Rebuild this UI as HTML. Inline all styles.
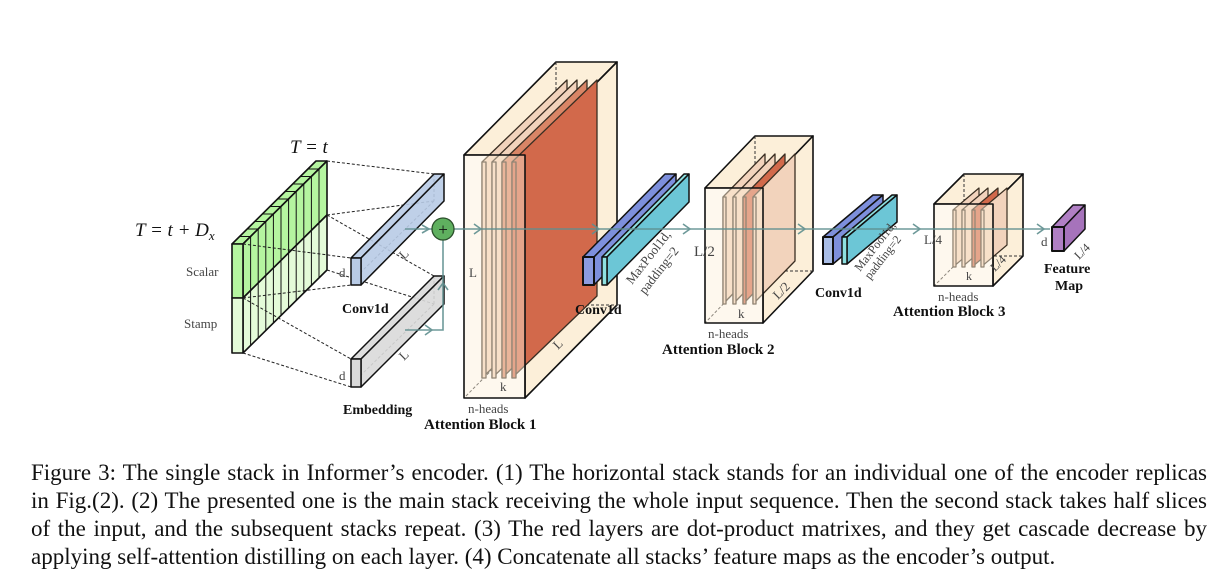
<!DOCTYPE html>
<html><head><meta charset="utf-8"><style>
body{margin:0;background:#fff;width:1230px;height:587px;overflow:hidden;position:relative;font-family:"Liberation Serif",serif}
svg{position:absolute;left:0;top:0}
.cap{position:absolute;left:31px;width:1176px;font-size:23px;line-height:28px;top:459px;color:#111}
.cap div{text-align:justify;text-align-last:justify;white-space:nowrap;height:28px}
.cap div.last{text-align-last:left}
</style></head><body>
<svg width="1230" height="587" viewBox="0 0 1230 587" font-family="Liberation Serif, serif">
<g stroke="#111" stroke-width="1.6" stroke-linejoin="round">
<polygon points="232,244 243,244 327,161 316,161" fill="#b5f5a0"/>
<polygon points="243,244 327,161 327,215 243,298" fill="#b5f5a0"/>
<polygon points="243,298 327,215 327,270 243,353" fill="#e4fbd9"/>
<rect x="232" y="244" width="11" height="54" fill="#b5f5a0"/>
<rect x="232" y="298" width="11" height="55" fill="#e4fbd9"/>
<g stroke-width="1">
<line x1="250.6" y1="236.5" x2="250.6" y2="345.5"/><line x1="258.2" y1="229" x2="258.2" y2="338"/>
<line x1="265.8" y1="221.5" x2="265.8" y2="330.5"/><line x1="273.4" y1="214" x2="273.4" y2="323"/>
<line x1="281" y1="206.5" x2="281" y2="315.5"/><line x1="288.6" y1="199" x2="288.6" y2="308"/>
<line x1="296.2" y1="191.5" x2="296.2" y2="300.5"/><line x1="303.8" y1="184" x2="303.8" y2="293"/>
<line x1="311.4" y1="176.5" x2="311.4" y2="285.5"/><line x1="319" y1="169" x2="319" y2="278"/>
<line x1="239.6" y1="236.5" x2="250.6" y2="236.5"/><line x1="247.2" y1="229" x2="258.2" y2="229"/>
<line x1="254.8" y1="221.5" x2="265.8" y2="221.5"/><line x1="262.4" y1="214" x2="273.4" y2="214"/>
<line x1="270" y1="206.5" x2="281" y2="206.5"/><line x1="277.6" y1="199" x2="288.6" y2="199"/>
<line x1="285.2" y1="191.5" x2="296.2" y2="191.5"/><line x1="292.8" y1="184" x2="303.8" y2="184"/>
<line x1="300.4" y1="176.5" x2="311.4" y2="176.5"/><line x1="308" y1="169" x2="319" y2="169"/>
</g>
</g>
<g stroke="#222" stroke-width="1" stroke-dasharray="3,2" fill="none">
<line x1="327" y1="161" x2="434" y2="174"/><line x1="327" y1="215" x2="434" y2="201"/>
<line x1="243" y1="244" x2="351" y2="258"/><line x1="243" y1="298" x2="351" y2="285"/>
<line x1="327" y1="215" x2="434" y2="276"/><line x1="327" y1="270" x2="434" y2="304"/>
<line x1="243" y1="298" x2="351" y2="359"/><line x1="243" y1="353" x2="351" y2="387"/>
<line x1="434" y1="174" x2="434" y2="201"/><line x1="434" y1="201" x2="361" y2="272"/>
<line x1="434" y1="276" x2="434" y2="304"/><line x1="434" y1="304" x2="361" y2="375"/>
</g>
<g stroke="#111" stroke-width="1.5" stroke-linejoin="round">
<polygon points="351,258 361,258 444,174 434,174" fill="#b8cbe6" fill-opacity=".9"/>
<polygon points="361,258 444,174 444,201 361,285" fill="#b8cbe6" fill-opacity=".9"/>
<rect x="351" y="258" width="10" height="27" fill="#b8cbe6"/>
<polygon points="351,359 361,359 444,276 434,276" fill="#d9d9d9" fill-opacity=".9"/>
<polygon points="361,359 444,276 444,304 361,387" fill="#d9d9d9" fill-opacity=".9"/>
<rect x="351" y="359" width="10" height="28" fill="#d9d9d9"/>
</g>
<g stroke="#111" stroke-width="1.6" stroke-linejoin="round">
<polygon points="464,155 525,155 617,62 556,62" fill="#fcefd9"/>
<polygon points="525,155 617,62 617,305 525,398" fill="#fcefd9"/>
<g stroke="#333" stroke-width="1" stroke-dasharray="3,2" fill="none">
<line x1="556" y1="62" x2="556" y2="305"/><line x1="556" y1="305" x2="617" y2="305"/><line x1="556" y1="305" x2="464" y2="398"/></g>
<g stroke="#3a2e22" stroke-width="1.3">
<polygon points="482,378 482,162 567,80 567,296" fill="#f2d3bc"/><rect x="482" y="162" width="4" height="216" fill="#f2d3bc"/>
<polygon points="492,378 492,162 577,80 577,296" fill="#f2d3bc"/><rect x="492" y="162" width="4" height="216" fill="#f2d3bc"/>
<polygon points="502,378 502,162 587,80 587,296" fill="#d98566"/><rect x="502" y="162" width="4" height="216" fill="#d98566"/>
<polygon points="512,378 512,162 597,80 597,296" fill="#d2694b"/><rect x="512" y="162" width="4" height="216" fill="#d2694b"/>
</g>
<rect x="464" y="155" width="61" height="243" fill="#fcefd9" fill-opacity=".45"/>
</g>
<g stroke="#111" stroke-width="1.5" stroke-linejoin="round">
<polygon points="583,257 594,257 676,174 665,174" fill="#7d8fdc"/>
<polygon points="594,257 676,174 676,202 594,285" fill="#7d8fdc"/>
<rect x="583" y="257" width="11" height="28" fill="#8c9be0" stroke-width="2"/>
<polygon points="602,257 607,257 689,174 684,174" fill="#8ee0e0"/>
<polygon points="607,257 689,174 689,202 607,285" fill="#6cc6d6"/>
<rect x="602" y="257" width="5" height="28" fill="#8ee0e0"/>
</g>
<g stroke="#111" stroke-width="1.6" stroke-linejoin="round">
<polygon points="705,188 763,188 813,136 755,136" fill="#fcefd9"/>
<polygon points="763,188 813,136 813,271 763,323" fill="#fcefd9"/>
<g stroke="#333" stroke-width="1" stroke-dasharray="3,2" fill="none">
<line x1="755" y1="136" x2="755" y2="271"/><line x1="755" y1="271" x2="813" y2="271"/><line x1="755" y1="271" x2="705" y2="323"/></g>
<g stroke="#3a2e22" stroke-width="1.3">
<polygon points="723,304 723,197 765,154 765,261" fill="#f2d3bc"/><rect x="723" y="197" width="3" height="107" fill="#f2d3bc"/>
<polygon points="733,304 733,197 775,154 775,261" fill="#f2d3bc"/><rect x="733" y="197" width="3" height="107" fill="#f2d3bc"/>
<polygon points="743,304 743,197 785,154 785,261" fill="#d2694b"/><rect x="743" y="197" width="3" height="107" fill="#d2694b"/>
<polygon points="753,304 753,197 795,154 795,261" fill="#f2d3bc"/><rect x="753" y="197" width="3" height="107" fill="#f2d3bc"/>
</g>
<rect x="705" y="188" width="58" height="135" fill="#fcefd9" fill-opacity=".45"/>
</g>
<g stroke="#111" stroke-width="1.5" stroke-linejoin="round">
<polygon points="823,237 833,237 883,195 873,195" fill="#7d8fdc"/>
<polygon points="833,237 883,195 883,222 833,264" fill="#7d8fdc"/>
<rect x="823" y="237" width="10" height="27" fill="#a9bde6" stroke-width="2"/>
<polygon points="842,237 847,237 897,195 892,195" fill="#8ee0e0"/>
<polygon points="847,237 897,195 897,222 847,264" fill="#6cc6d6"/>
<rect x="842" y="237" width="5" height="27" fill="#8ee0e0"/>
</g>
<g stroke="#111" stroke-width="1.6" stroke-linejoin="round">
<polygon points="934,204 993,204 1023,174 964,174" fill="#fcefd9"/>
<polygon points="993,204 1023,174 1023,256 993,286" fill="#fcefd9"/>
<g stroke="#333" stroke-width="1" stroke-dasharray="3,2" fill="none">
<line x1="964" y1="174" x2="964" y2="256"/><line x1="964" y1="256" x2="1023" y2="256"/><line x1="964" y1="256" x2="934" y2="286"/></g>
<g stroke="#3a2e22" stroke-width="1.2">
<polygon points="953,267 953,210 979,188 979,245" fill="#f2d3bc"/><rect x="953" y="210" width="3" height="57" fill="#f2d3bc"/>
<polygon points="962,267 962,210 988,188 988,245" fill="#f2d3bc"/><rect x="962" y="210" width="3" height="57" fill="#f2d3bc"/>
<polygon points="972,267 972,210 998,188 998,245" fill="#d2694b"/><rect x="972" y="210" width="3" height="57" fill="#d2694b"/>
<polygon points="981,267 981,210 1007,188 1007,245" fill="#f2d3bc"/><rect x="981" y="210" width="3" height="57" fill="#f2d3bc"/>
</g>
<rect x="934" y="204" width="59" height="82" fill="#fcefd9" fill-opacity=".45"/>
</g>
<g stroke="#111" stroke-width="1.5" stroke-linejoin="round">
<polygon points="1052,227 1064,227 1085,205 1073,205" fill="#b07fc4"/>
<polygon points="1064,227 1085,205 1085,229 1064,251" fill="#a673bb"/>
<rect x="1052" y="227" width="12" height="24" fill="#b07fc4" stroke-width="2"/>
</g>
<g stroke="#5f8f8f" stroke-width="1.6" fill="none" opacity=".9">
<line x1="405" y1="229" x2="432" y2="229"/>
<line x1="454" y1="229" x2="1050" y2="229"/>
<polyline points="405,330 443,330 443,240"/>
<polyline points="474,224 481,229 474,234"/><polyline points="592,224 599,229 592,234"/>
<polyline points="683,224 690,229 683,234"/><polyline points="798,224 805,229 798,234"/>
<polyline points="913,224 920,229 913,234"/><polyline points="1037,224 1044,229 1037,234"/>
<polyline points="422,225 429,229 422,233"/><polyline points="425,325 432,330 425,335"/>
<polyline points="438,290 443,283 448,290"/>
</g>
<circle cx="443" cy="229" r="11" fill="#5fb05f" stroke="#2b4f2b" stroke-width="1.3"/>
<text x="443" y="235" font-size="17" text-anchor="middle" fill="#111">+</text>
<g fill="#111">
<text x="290" y="153" font-size="19" font-style="italic">T = t</text>
<text x="135" y="236" font-size="19" font-style="italic">T = t + D<tspan font-size="13" dy="4">x</tspan></text>
<text x="186" y="276" font-size="13" fill="#444">Scalar</text>
<text x="184" y="328" font-size="13" fill="#444">Stamp</text>
<text x="339" y="277" font-size="13" fill="#444">d</text>
<text x="339" y="380" font-size="13" fill="#444">d</text>
<text x="404" y="260" font-size="13" fill="#444" transform="rotate(-45 404 260)">L</text>
<text x="404" y="361" font-size="13" fill="#444" transform="rotate(-45 404 361)">L</text>
<text x="342" y="313" font-size="14" font-weight="bold">Conv1d</text>
<text x="343" y="414" font-size="14" font-weight="bold">Embedding</text>
<text x="424" y="429" font-size="15" font-weight="bold">Attention Block 1</text>
<text x="468" y="413" font-size="13" fill="#444">n-heads</text>
<text x="500" y="391" font-size="13" fill="#444">k</text>
<text x="469" y="277" font-size="13" fill="#444">L</text>
<text x="558" y="350" font-size="13" fill="#444" transform="rotate(-45 558 350)">L</text>
<text x="575" y="314" font-size="14" font-weight="bold">Conv1d</text>
<text x="632" y="285" font-size="13" fill="#444" transform="rotate(-52 632 285)">MaxPool1d,</text>
<text x="645" y="295" font-size="13" fill="#444" transform="rotate(-52 645 295)">padding=2</text>
<text x="694" y="256" font-size="15" fill="#444">L/2</text>
<text x="778" y="300" font-size="13" fill="#444" transform="rotate(-45 778 300)">L/2</text>
<text x="738" y="318" font-size="13" fill="#444">k</text>
<text x="708" y="338" font-size="13" fill="#444">n-heads</text>
<text x="662" y="354" font-size="15" font-weight="bold">Attention Block 2</text>
<text x="815" y="297" font-size="14" font-weight="bold">Conv1d</text>
<text x="860" y="272" font-size="12" fill="#444" transform="rotate(-52 860 272)">MaxPool1d,</text>
<text x="870" y="280" font-size="12" fill="#444" transform="rotate(-52 870 280)">padding=2</text>
<text x="924" y="244" font-size="13" fill="#444">L/4</text>
<text x="995" y="272" font-size="12" fill="#444" transform="rotate(-45 995 272)">L/4</text>
<text x="966" y="280" font-size="12" fill="#444">k</text>
<text x="938" y="301" font-size="13" fill="#444">n-heads</text>
<text x="893" y="316" font-size="15" font-weight="bold">Attention Block 3</text>
<text x="1041" y="246" font-size="13" fill="#444">d</text>
<text x="1079" y="260" font-size="12" fill="#444" transform="rotate(-45 1079 260)">L/4</text>
<text x="1044" y="273" font-size="14" font-weight="bold">Feature</text>
<text x="1055" y="290" font-size="14" font-weight="bold">Map</text>
</g>
</svg>
<div class="cap">
<div>Figure 3: The single stack in Informer’s encoder. (1) The horizontal stack stands for an individual one of the encoder replicas</div>
<div>in Fig.(2). (2) The presented one is the main stack receiving the whole input sequence. Then the second stack takes half slices</div>
<div>of the input, and the subsequent stacks repeat. (3) The red layers are dot-product matrixes, and they get cascade decrease by</div>
<div class="last">applying self-attention distilling on each layer. (4) Concatenate all stacks’ feature maps as the encoder’s output.</div>
</div>
</body></html>
